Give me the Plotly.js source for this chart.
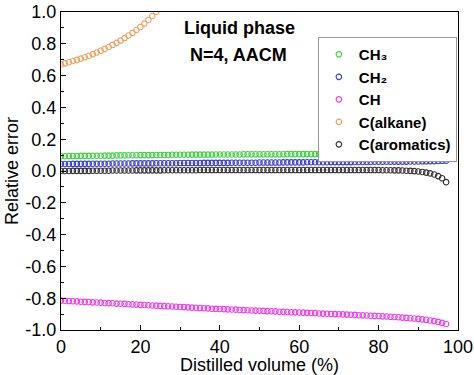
<!DOCTYPE html>
<html>
<head>
<meta charset="utf-8">
<script src="https://cdn.plot.ly/plotly-3.0.1.min.js"></script>
<style>html,body{margin:0;padding:0;background:#fff;}#chart{width:474px;height:375px;}</style>
</head>
<body>
<div id="chart"></div>
<script>
var volume = [0,1,2,3,4,5,6,7,8,9,10,11,12,13,14,15,16,17,18,19,20,21,22,23,24,25,26,27,28,29,30,31,32,33,34,35,36,37,38,39,40,41,42,43,44,45,46,47,48,49,50,51,52,53,54,55,56,57,58,59,60,61,62,63,64,65,66,67,68,69,70,71,72,73,74,75,76,77,78,79,80,81,82,83,84,85,86,87,88,89,90,91,92,93,94,95,96,97];

var ch3 = [0.093,0.093,0.094,0.094,0.094,0.095,0.095,0.095,0.096,0.096,
0.096,0.097,0.097,0.097,0.098,0.098,0.098,0.099,0.099,0.099,
0.100,0.100,0.100,0.100,0.101,0.101,0.101,0.101,0.102,0.102,
0.102,0.102,0.102,0.103,0.103,0.103,0.103,0.103,0.103,0.104,
0.104,0.104,0.104,0.104,0.104,0.104,0.105,0.105,0.105,0.105,
0.105,0.105,0.105,0.105,0.105,0.105,0.105,0.106,0.106,0.106,
0.106,0.106,0.106,0.106,0.106,0.106,0.106,0.106,0.106,0.106,
0.106,0.106,0.106,0.106,0.106,0.106,0.106,0.106,0.106,0.106,
0.106,0.106,0.106,0.106,0.106,0.106,0.106,0.106,0.106,0.105,
0.105,0.105,0.105,0.104,0.104,0.103,0.102,0.101];

var ch2 = [0.044,0.044,0.044,0.045,0.045,0.045,0.045,0.045,0.046,0.046,
0.046,0.046,0.046,0.047,0.047,0.047,0.047,0.047,0.048,0.048,
0.048,0.048,0.048,0.048,0.049,0.049,0.049,0.049,0.049,0.049,
0.050,0.050,0.050,0.050,0.050,0.050,0.051,0.051,0.051,0.051,
0.051,0.051,0.051,0.052,0.052,0.052,0.052,0.052,0.052,0.052,
0.053,0.053,0.053,0.053,0.053,0.053,0.054,0.054,0.054,0.054,
0.054,0.054,0.055,0.055,0.055,0.055,0.055,0.055,0.056,0.056,
0.056,0.056,0.056,0.056,0.057,0.057,0.057,0.057,0.057,0.058,
0.058,0.058,0.058,0.058,0.059,0.059,0.059,0.059,0.060,0.060,
0.060,0.061,0.061,0.062,0.062,0.063,0.064,0.065];

var ch = [-0.815,-0.816,-0.818,-0.819,-0.820,-0.822,-0.823,-0.824,-0.826,-0.827,
-0.828,-0.830,-0.831,-0.832,-0.834,-0.835,-0.836,-0.838,-0.839,-0.840,
-0.842,-0.843,-0.844,-0.846,-0.847,-0.848,-0.850,-0.851,-0.852,-0.854,
-0.855,-0.856,-0.858,-0.859,-0.860,-0.862,-0.863,-0.864,-0.866,-0.867,
-0.868,-0.869,-0.870,-0.871,-0.872,-0.874,-0.875,-0.876,-0.877,-0.878,
-0.879,-0.880,-0.881,-0.882,-0.883,-0.885,-0.886,-0.887,-0.888,-0.889,
-0.890,-0.891,-0.892,-0.893,-0.894,-0.896,-0.897,-0.898,-0.899,-0.900,
-0.901,-0.902,-0.903,-0.904,-0.905,-0.907,-0.908,-0.909,-0.910,-0.911,
-0.912,-0.914,-0.915,-0.917,-0.918,-0.920,-0.922,-0.924,-0.926,-0.928,
-0.930,-0.933,-0.936,-0.940,-0.944,-0.949,-0.955,-0.962];

var alkaneVolume = [0,1,2,3,4,5,6,7,8,9,10,11,12,13,14,15,16,17,18,19,20,21,22,23,24];
var alkane = [0.670,0.677,0.684,0.692,0.699,0.707,0.715,0.725,0.735,0.745,
0.756,0.768,0.780,0.793,0.806,0.820,0.836,0.852,0.869,0.887,
0.906,0.927,0.950,0.975,1.002];

var aromatics = [0.000,0.000,0.000,0.001,0.001,0.001,0.001,0.001,0.002,0.002,
0.002,0.002,0.002,0.003,0.003,0.003,0.003,0.003,0.003,0.004,
0.004,0.004,0.004,0.004,0.004,0.004,0.005,0.005,0.005,0.005,
0.005,0.005,0.005,0.005,0.005,0.006,0.006,0.006,0.006,0.006,
0.006,0.006,0.006,0.006,0.006,0.006,0.006,0.006,0.006,0.006,
0.006,0.006,0.006,0.006,0.006,0.006,0.006,0.006,0.006,0.006,
0.006,0.006,0.006,0.006,0.006,0.006,0.006,0.006,0.006,0.006,
0.006,0.006,0.006,0.006,0.006,0.006,0.006,0.006,0.006,0.006,
0.006,0.005,0.005,0.005,0.004,0.004,0.003,0.002,0.001,-0.001,
-0.003,-0.006,-0.010,-0.015,-0.022,-0.032,-0.046,-0.070];

var names = ['CH₃', 'CH₂', 'CH', 'C(alkane)', 'C(aromatics)'];
var colors = ['#3ed43e', '#3a3ae0', '#ee3cee', '#f0a060', '#333333'];

function mk(x, y, i) {
  return {
    x: x, y: y, name: names[i], type: 'scatter', mode: 'markers',
    marker: {symbol: 'circle-open', size: 5.5, color: colors[i], line: {width: 1.1, color: colors[i]}},
    cliponaxis: true
  };
}

var data = [
  mk(volume, ch3, 0),
  mk(volume, ch2, 1),
  mk(volume, ch, 2),
  mk(alkaneVolume, alkane, 3),
  mk(volume, aromatics, 4)
];

var font = 'Liberation Sans, Arial, sans-serif';

var layout = {
  width: 474, height: 375,
  margin: {l: 61, r: 16, t: 12, b: 45, pad: 0},
  paper_bgcolor: '#fff', plot_bgcolor: '#fff',
  font: {family: font, color: '#000', size: 18},
  showlegend: true,
  legend: {
    x: 0.647, y: 0.921, xanchor: 'left', yanchor: 'top',
    bordercolor: '#999', borderwidth: 1, bgcolor: '#fff',
    font: {family: font, size: 15, color: '#000', weight: 'bold'},
    tracegroupgap: 0, itemwidth: 30
  },
  xaxis: {
    range: [0, 100], tickvals: [0,20,40,60,80,100], ticks: 'inside', ticklen: 5, tickwidth: 1,
    tickcolor: '#000', showline: true, linecolor: '#000', linewidth: 1, mirror: true,
    showgrid: false, zeroline: false, tickfont: {size: 18, family: font},
    minor: {tickvals: [10,30,50,70,90], ticks: 'inside', ticklen: 3, tickcolor: '#000', showgrid: false},
    title: {text: 'Distilled volume (%)', font: {size: 18, family: font}, standoff: 0}
  },
  yaxis: {
    range: [-1, 1], tickvals: [-1,-0.8,-0.6,-0.4,-0.2,0,0.2,0.4,0.6,0.8,1.0],
    ticktext: ['-1.0','-0.8','-0.6','-0.4','-0.2','0.0','0.2','0.4','0.6','0.8','1.0'],
    ticks: 'inside', ticklen: 5, tickwidth: 1, tickcolor: '#000',
    showline: true, linecolor: '#000', linewidth: 1, mirror: true,
    showgrid: false, zeroline: false, tickfont: {size: 18, family: font},
    minor: {tickvals: [-0.9,-0.7,-0.5,-0.3,-0.1,0.1,0.3,0.5,0.7,0.9], ticks: 'inside', ticklen: 3, tickcolor: '#000', showgrid: false},
    title: {text: 'Relative error', font: {size: 18, family: font}, standoff: 2}
  },
  annotations: [
    {xref: 'paper', yref: 'paper', x: 0.45, y: 0.95, text: 'Liquid phase', showarrow: false,
     font: {family: font, size: 18, weight: 'bold', color: '#000'}, xanchor: 'center', yanchor: 'middle'},
    {xref: 'paper', yref: 'paper', x: 0.447, y: 0.865, text: 'N=4, AACM', showarrow: false,
     font: {family: font, size: 18, weight: 'bold', color: '#000'}, xanchor: 'center', yanchor: 'middle'}
  ]
};

Plotly.newPlot('chart', data, layout, {displayModeBar: false, staticPlot: true});
</script>
</body>
</html>
